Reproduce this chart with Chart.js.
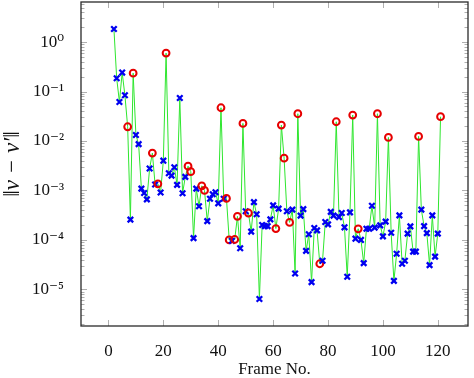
<!DOCTYPE html>
<html>
<head>
<meta charset="utf-8">
<script src="https://cdn.jsdelivr.net/npm/chart.js@4/dist/chart.umd.min.js"></script>
<style>
html,body{margin:0;padding:0;background:#fff;}
#wrap{width:474px;height:378px;position:relative;}
</style>
</head>
<body>
<div id="wrap"><canvas id="c" width="474" height="378"></canvas></div>
<script>
// ---- data ----
const frames = [];
for (let f = 2; f <= 121; f++) frames.push(f);
const errorValues = [
  1.84, 0.186, 0.0615, 0.242, 0.084, 0.0194, 2.57e-4, 0.235, 0.0132, 0.00865,
  0.00109, 8.9e-4, 6.6e-4, 0.00278, 0.00569, 0.00132, 0.00136, 9.1e-4, 0.0040, 0.598,
  0.00223, 0.0020, 0.00295, 0.0013, 0.074, 8.8e-4, 0.00188, 0.0031, 0.0024, 1.09e-4,
  0.00109, 4.8e-4, 0.00124, 0.0010, 2.4e-4, 6.8e-4, 8.4e-4, 9.2e-4, 5.5e-4, 0.047,
  6.8e-4, 6.9e-4, 1.0e-4, 9.6e-5, 1.02e-4, 3.0e-4, 6.8e-5, 0.0227, 3.8e-4, 3.5e-4,
  1.47e-4, 5.8e-4, 3.3e-4, 6.4e-6, 2.0e-4, 1.9e-4, 1.9e-4, 2.6e-4, 5.0e-4, 1.7e-4,
  4.3e-4, 0.021, 0.0045, 3.8e-4, 2.26e-4, 4.1e-4, 2.1e-5, 0.0356, 3.1e-4, 4.2e-4,
  6.0e-5, 1.3e-4, 1.4e-5, 1.74e-4, 1.56e-4, 3.3e-5, 3.8e-5, 2.3e-4, 2.06e-4, 3.7e-4,
  3.1e-4, 0.0245, 2.9e-4, 3.5e-4, 1.8e-4, 1.8e-5, 3.6e-4, 0.0335, 1.06e-4, 1.68e-4,
  1.0e-4, 3.4e-5, 1.68e-4, 1.68e-4, 4.9e-4, 1.77e-4, 0.0356, 1.97e-4, 1.18e-4, 2.34e-4,
  0.0118, 1.4e-4, 1.49e-5, 5.25e-5, 3.14e-4, 3.3e-5, 3.8e-5, 1.34e-4, 1.88e-4, 5.8e-5,
  5.8e-5, 0.0124, 4.1e-4, 1.9e-4, 1.37e-4, 3.1e-5, 3.14e-4, 4.6e-5, 1.34e-4, 0.031
];
// frames marked with red circles
const keyFrames = [7, 9, 16, 18, 21, 29, 30, 34, 35, 41, 43, 44, 46, 47, 49, 51,
  61, 63, 64, 66, 69, 77, 83, 89, 91, 98, 102, 113, 121];
const xTickValues = [0, 20, 40, 60, 80, 100, 120];
const yDecades = [-5, -4, -3, -2, -1, 0];
const xLabel = 'Frame No.';
const yLabel = '\u2016v \u2212 v\u2032\u2016';

// ---- build ----
const points = frames.map((f, i) => ({x: f, y: errorValues[i]}));
const isKey = ctx => keyFrames.includes(frames[ctx.dataIndex]);
const SUP = {'-': '\u207B', '0': '\u2070', '1': '\u00B9', '2': '\u00B2', '3': '\u00B3',
  '4': '\u2074', '5': '\u2075', '6': '\u2076', '7': '\u2077', '8': '\u2078', '9': '\u2079'};
const supStr = n => String(n).split('').map(c => SUP[c]).join('');

const FONT = "'Liberation Serif', 'DejaVu Serif', serif";

const frameTicks = {
  id: 'frameTicks',
  afterDraw(chart) {
    const {ctx, chartArea: a, scales: {x, y}} = chart;
    ctx.save();
    ctx.strokeStyle = '#9a9a9a';
    ctx.lineWidth = 0.8;
    ctx.beginPath();
    x.ticks.forEach(t => {
      const px = Math.round(x.getPixelForValue(t.value)) + 0.5;
      ctx.moveTo(px, a.bottom); ctx.lineTo(px, a.bottom - 6);
      ctx.moveTo(px, a.top); ctx.lineTo(px, a.top + 6);
    });
    y.ticks.forEach(t => {
      const py = Math.round(y.getPixelForValue(t.value)) + 0.5;
      const len = t.major ? 6 : 3.5;
      ctx.moveTo(a.left, py); ctx.lineTo(a.left + len, py);
      ctx.moveTo(a.right, py); ctx.lineTo(a.right - len, py);
    });
    ctx.stroke();
    ctx.strokeStyle = '#2a2a2a';
    ctx.lineWidth = 1.3;
    ctx.strokeRect(a.left, a.top, a.right - a.left, a.bottom - a.top);
    ctx.restore();
  }
};

new Chart(document.getElementById('c'), {
  type: 'line',
  data: {
    datasets: [{
      data: points,
      borderColor: '#2ee62e',
      borderWidth: 1,
      tension: 0,
      pointStyle: ctx => isKey(ctx) ? 'circle' : 'crossRot',
      pointRadius: ctx => isKey(ctx) ? 3.4 : 3.9,
      pointBorderWidth: ctx => isKey(ctx) ? 2 : 2.3,
      pointBorderColor: ctx => isKey(ctx) ? '#e60000' : '#0000f0',
      pointBackgroundColor: 'rgba(0,0,0,0)',
      pointHoverRadius: 0
    }]
  },
  options: {
    responsive: false,
    animation: false,
    events: [],
    layout: {autoPadding: false, padding: {left: 0, right: 6, top: 2, bottom: 0}},
    plugins: {legend: {display: false}, tooltip: {enabled: false}},
    scales: {
      x: {
        type: 'linear',
        min: -10, max: 131,
        afterBuildTicks: s => { s.ticks = xTickValues.map(v => ({value: v})); },
        afterFit: s => { s.height = 52; s.paddingLeft = 0; s.paddingRight = 0; },
        grid: {display: false},
        border: {display: false},
        ticks: {
          autoSkip: false, maxRotation: 0, padding: 7,
          color: '#111', font: {family: FONT, size: 17}
        },
        title: {display: true, text: xLabel, color: '#111',
          font: {family: FONT, size: 17}, padding: {top: 0, bottom: -2}}
      },
      y: {
        type: 'logarithmic',
        min: 1.82e-6, max: 6.46,
        afterBuildTicks: s => {
          const t = [];
          for (let e = -6; e <= 0; e++) {
            for (let m = 1; m <= 9; m++) {
              const v = Number(m + 'e' + e);
              if (v >= s.min && v <= s.max) t.push({value: v, major: m === 1, exp: e});
            }
          }
          s.ticks = t;
        },
        afterFit: s => { s.width = 81; s.paddingTop = 0; s.paddingBottom = 0; },
        grid: {display: false},
        border: {display: false},
        ticks: {
          autoSkip: false, padding: 9, color: '#111',
          font: {family: FONT, size: 17},
          callback: (v) => {
            const l = Math.log10(v);
            const r = Math.round(l);
            return (Math.abs(l - r) < 1e-9 && yDecades.includes(r)) ? '10' + supStr(r) : '';
          }
        },
        title: {display: true, text: yLabel, color: '#111',
          font: {family: FONT, size: 23, style: 'italic'}, padding: {top: -1, bottom: 0}}
      }
    }
  },
  plugins: [frameTicks]
});
</script>
</body>
</html>
